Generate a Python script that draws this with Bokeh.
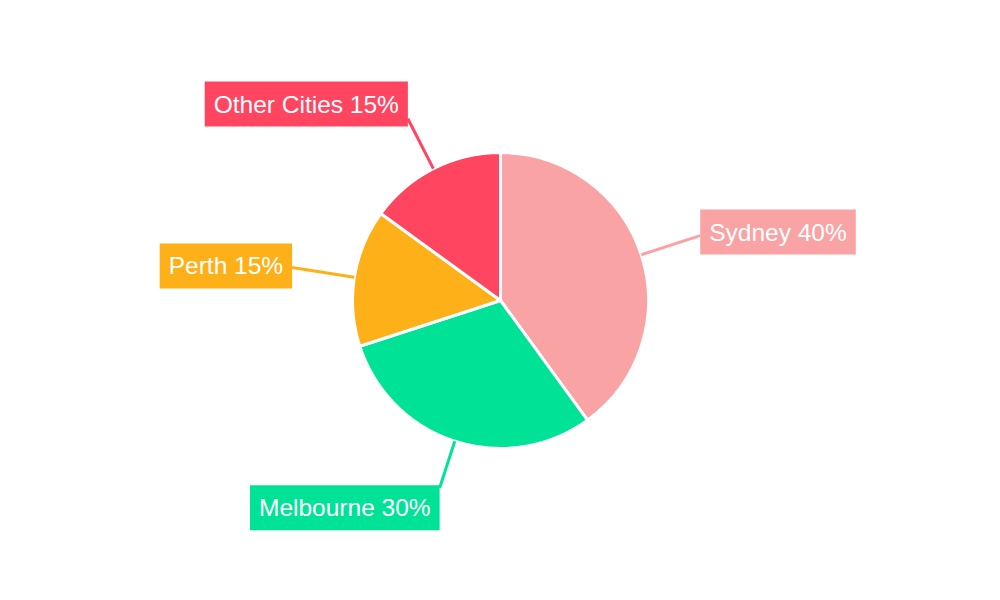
import math
from bokeh.plotting import figure
from bokeh.models import ColumnDataSource, Range1d
from bokeh.core.properties import value
from bokeh.embed import file_html
from bokeh.resources import INLINE

cities = ["Sydney", "Melbourne", "Perth", "Other Cities"]
shares = [40, 30, 15, 15]
colors = ["#F9A3A4", "#00E396", "#FEB019", "#FF4560"]

W, H = 984, 584
cx, cy = 500, H - 300
R = 148
leader_len = [62, 49, 63, 56]          # leader line length beyond the rim (px)
label_dy = [-3.6, 20, -1.5, -14.7]     # screen offset of label box centre from leader end
PAD = 9

total = float(sum(shares))
starts, ends, mids = [], [], []
acc = 0.0
for s in shares:
    t0 = acc / total * 360.0
    acc += s
    t1 = acc / total * 360.0
    starts.append(math.radians(90 - t0))
    ends.append(math.radians(90 - t1))
    mids.append(math.radians((t0 + t1) / 2))

p = figure(width=W, height=H, output_backend="svg", toolbar_location=None,
           x_range=Range1d(0, W), y_range=Range1d(0, H), min_border=0)
p.axis.visible = False
p.grid.visible = False
p.outline_line_color = None

wedges = ColumnDataSource(dict(start=starts, end=ends, color=colors, city=cities))
p.wedge(x=cx, y=cy, radius=R, start_angle="start", end_angle="end",
        direction="clock", fill_color="color", line_color="white", line_width=3,
        source=wedges)

x0s, y0s, x1s, y1s, tx, ty, align, labels = [], [], [], [], [], [], [], []
for c, s, m, ln, dy in zip(cities, shares, mids, leader_len, label_dy):
    sx, sy = math.sin(m), math.cos(m)
    x0s.append(cx + R * sx); y0s.append(cy + R * sy)
    ax, ay = cx + (R + ln) * sx, cy + (R + ln) * sy
    x1s.append(ax); y1s.append(ay)
    align.append("left" if sx >= 0 else "right")
    tx.append(ax)
    ty.append(ay - dy)
    labels.append(f"{c} {s}%")

p.segment(x0=x0s, y0=y0s, x1=x1s, y1=y1s, line_color=colors, line_width=3)

src = ColumnDataSource(dict(x=tx, y=ty, text=labels, align=align, color=colors))
p.text(x="x", y="y", text="text", text_align="align", text_baseline="middle",
       text_color="white", text_font=value("Liberation Sans"), text_font_size="24.5px",
       background_fill_color="color", padding=PAD, source=src)

open("out.html", "w").write(file_html(p, INLINE))
